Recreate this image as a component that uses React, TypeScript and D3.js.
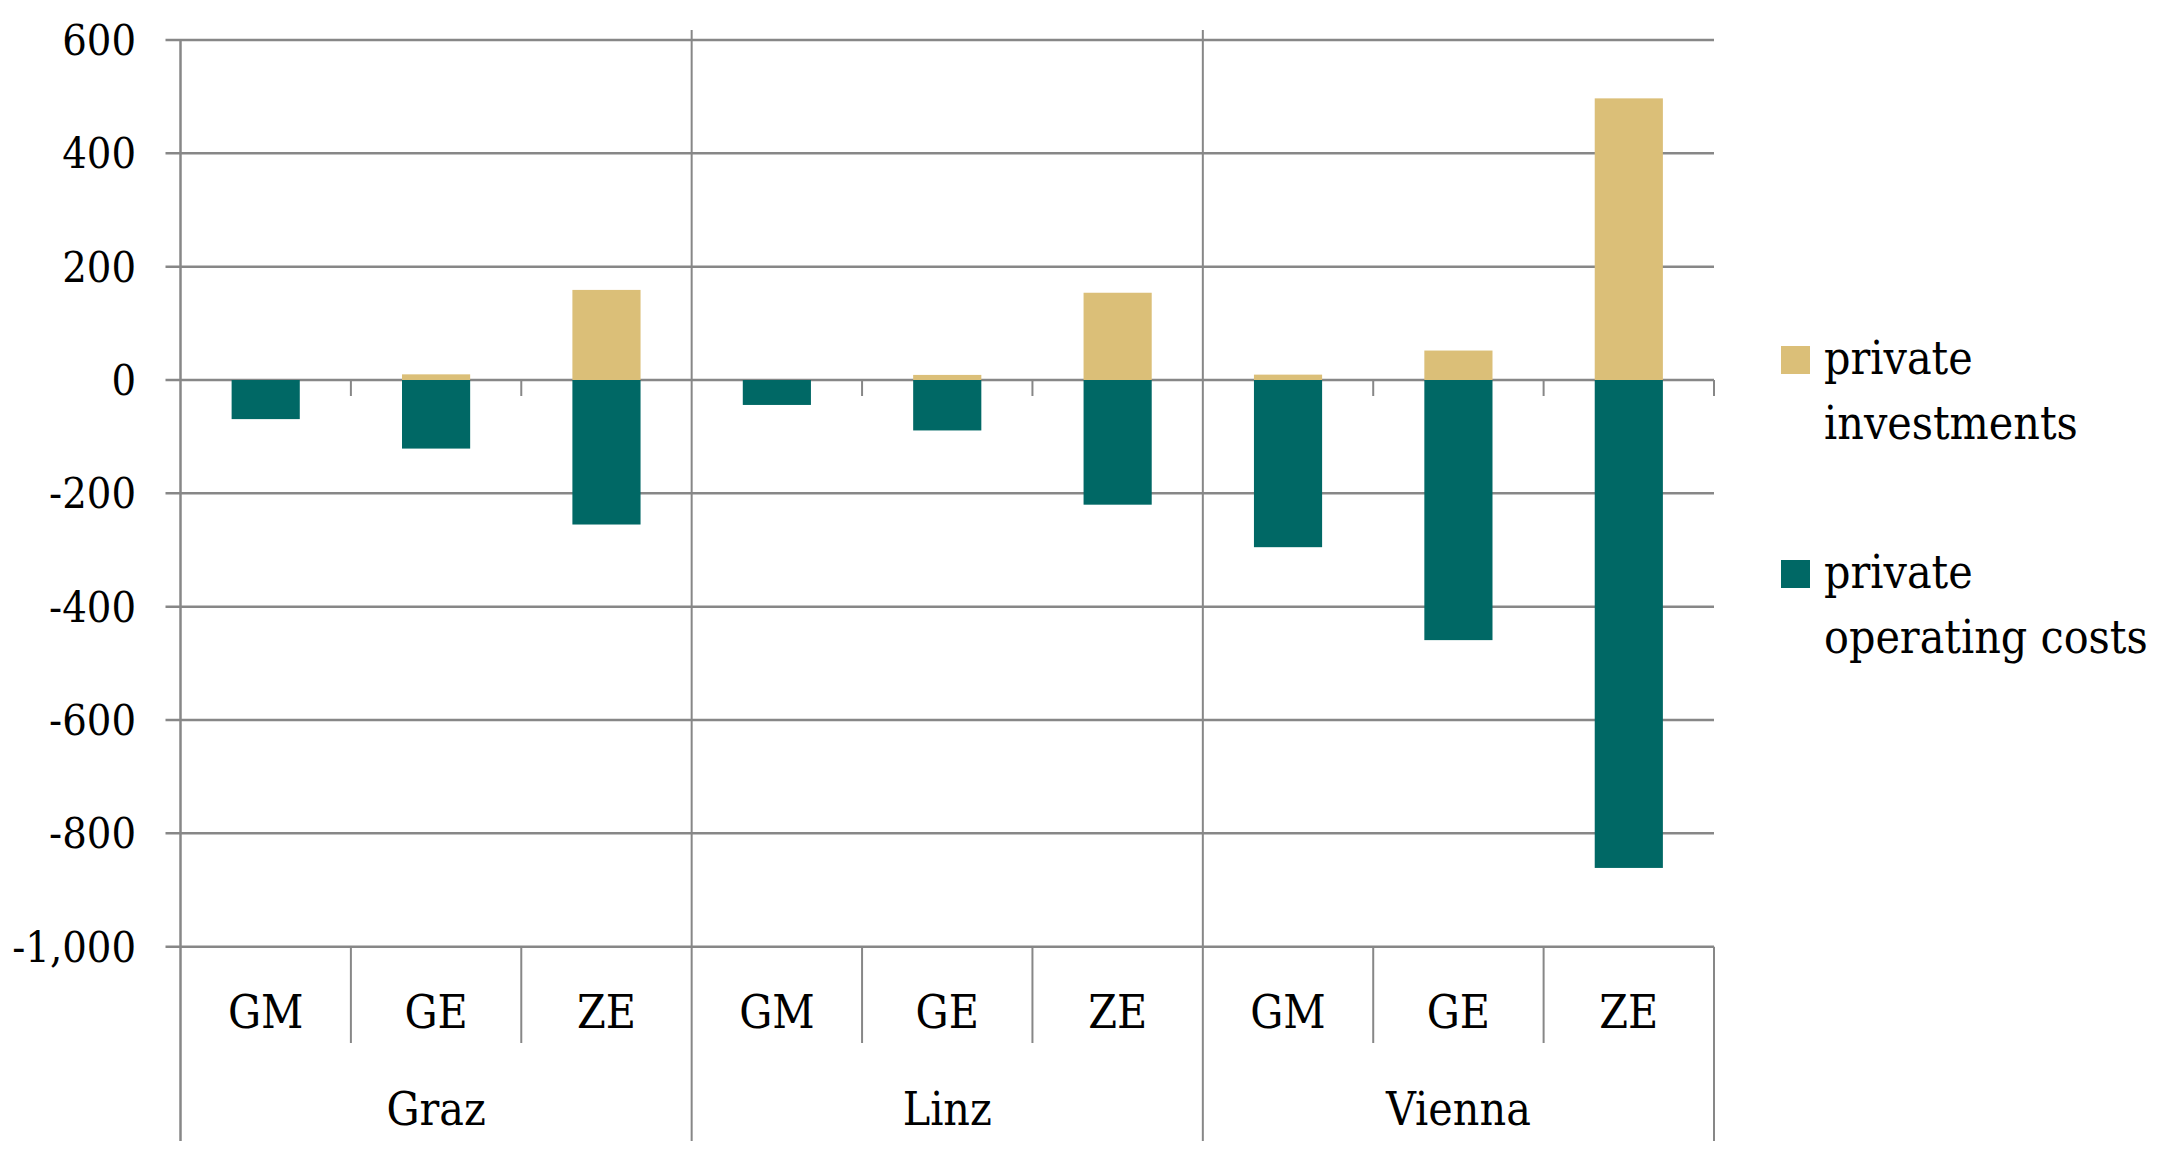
import React, { useEffect, useRef } from 'react';
import * as d3 from 'd3';

const cities = ['Graz', 'Linz', 'Vienna'];
const scenarios = ['GM', 'GE', 'ZE'];
const investments = [0, 10, 159, 0, 9, 154, 9.5, 52, 497];
const operatingCosts = [-69, -121, -255, -44, -89, -220, -295, -459, -861];
const yTicks = [600, 400, 200, 0, -200, -400, -600, -800, -1000];
const seriesNames = [['private', 'investments'], ['private', 'operating costs']];
const seriesColors = ['#dbbf78', '#006865'];

const App: React.FC = () => {
  const svgRef = useRef<SVGSVGElement>(null);

  useEffect(() => {
    if (!svgRef.current) return;
    d3.select(svgRef.current).selectAll('*').remove();

    const width = 2165;
    const height = 1169;
    const left = 180.5;
    const right = 1714;
    const gridColor = '#878787';
    const font = "'DejaVu Serif Condensed', 'DejaVu Serif', serif";

    const svg = d3.select(svgRef.current)
      .attr('width', width)
      .attr('height', height)
      .attr('viewBox', `0 0 ${width} ${height}`)
      .style('font-family', font)
      .style('font-stretch', 'condensed');

    svg.append('rect').attr('width', width).attr('height', height).attr('fill', '#fff');

    const keys = cities.flatMap(c => scenarios.map(s => `${c}-${s}`));

    const x = d3.scaleBand<string>()
      .domain(keys)
      .range([left, right])
      .paddingInner(0.6)
      .paddingOuter(0.3);
    const step = x.step();

    const y = d3.scaleLinear().domain([-1000, 600]).range([946.7, 40]);
    const axisBottom = 1141;
    const subBottom = 1043;

    // horizontal gridlines with left ticks
    svg.append('g')
      .selectAll('line')
      .data(yTicks)
      .join('line')
      .attr('x1', left - 15)
      .attr('x2', right)
      .attr('y1', d => y(d))
      .attr('y2', d => y(d))
      .attr('stroke', gridColor)
      .attr('stroke-width', 2.5);

    // y tick labels
    svg.append('g')
      .selectAll('text')
      .data(yTicks)
      .join('text')
      .attr('x', 136)
      .attr('y', d => y(d) + 15)
      .attr('text-anchor', 'end')
      .style('font-size', '43px')
      .style('fill', '#000')
      .text(d => d3.format(',')(d).replace('−', '-'));

    // y axis line
    svg.append('line')
      .attr('x1', left).attr('x2', left)
      .attr('y1', y(600)).attr('y2', axisBottom)
      .attr('stroke', gridColor).attr('stroke-width', 2.5);

    // group separators (full height) and right end
    cities.forEach((c, i) => {
      const gx = left + step * 3 * (i + 1);
      if (i < cities.length - 1) {
        svg.append('line')
          .attr('x1', gx).attr('x2', gx)
          .attr('y1', 30).attr('y2', axisBottom)
          .attr('stroke', gridColor).attr('stroke-width', 2);
      } else {
        svg.append('line')
          .attr('x1', gx).attr('x2', gx)
          .attr('y1', y(-1000)).attr('y2', axisBottom)
          .attr('stroke', gridColor).attr('stroke-width', 2);
        svg.append('line')
          .attr('x1', gx).attr('x2', gx)
          .attr('y1', y(0)).attr('y2', y(0) + 16)
          .attr('stroke', gridColor).attr('stroke-width', 2);
      }
    });

    // category ticks at zero line and separators below the plot
    keys.forEach((k, i) => {
      if (i % 3 === 2) return;
      const tx = (x(k) ?? 0) + x.bandwidth() / 2 + step / 2;
      svg.append('line')
        .attr('x1', tx).attr('x2', tx)
        .attr('y1', y(0)).attr('y2', y(0) + 16)
        .attr('stroke', gridColor).attr('stroke-width', 2);
      svg.append('line')
        .attr('x1', tx).attr('x2', tx)
        .attr('y1', y(-1000)).attr('y2', subBottom)
        .attr('stroke', gridColor).attr('stroke-width', 2);
    });

    // bars
    const bars = svg.append('g');
    bars.selectAll('rect.inv')
      .data(keys)
      .join('rect')
      .attr('class', 'inv')
      .attr('x', d => x(d) ?? 0)
      .attr('width', x.bandwidth())
      .attr('y', (d, i) => y(investments[i]))
      .attr('height', (d, i) => y(0) - y(investments[i]))
      .attr('fill', seriesColors[0]);

    bars.selectAll('rect.op')
      .data(keys)
      .join('rect')
      .attr('class', 'op')
      .attr('x', d => x(d) ?? 0)
      .attr('width', x.bandwidth())
      .attr('y', y(0))
      .attr('height', (d, i) => y(operatingCosts[i]) - y(0))
      .attr('fill', seriesColors[1]);

    // sub-category labels
    svg.append('g')
      .selectAll('text')
      .data(keys)
      .join('text')
      .attr('x', d => (x(d) ?? 0) + x.bandwidth() / 2)
      .attr('y', 1028)
      .attr('text-anchor', 'middle')
      .style('font-size', '46px')
      .text(d => d.split('-')[1]);

    // city labels
    svg.append('g')
      .selectAll('text')
      .data(cities)
      .join('text')
      .attr('x', (d, i) => left + step * 3 * i + step * 1.5)
      .attr('y', 1125)
      .attr('text-anchor', 'middle')
      .style('font-size', '46px')
      .text(d => d);

    // legend
    const legend = svg.append('g');
    const legendTop = [346, 560];
    seriesNames.forEach((lines, i) => {
      legend.append('rect')
        .attr('x', 1781)
        .attr('y', legendTop[i])
        .attr('width', 29)
        .attr('height', 28)
        .attr('fill', seriesColors[i]);
      lines.forEach((line, j) => {
        legend.append('text')
          .attr('x', 1824)
          .attr('y', legendTop[i] + 28 + j * 65)
          .style('font-size', '46px')
          .text(line);
      });
    });
  }, []);

  return <svg ref={svgRef} style={{ position: 'absolute', left: 0, top: 0 }}></svg>;
};

export default App;
